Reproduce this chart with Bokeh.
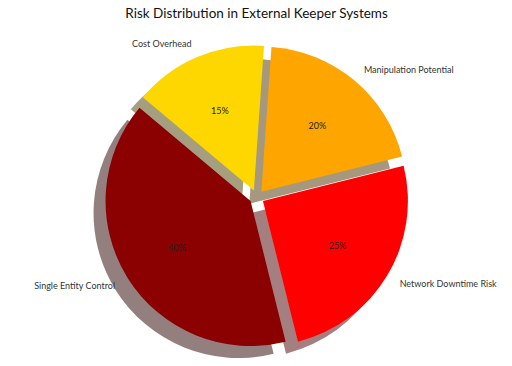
import numpy as np
from bokeh.plotting import figure
from bokeh.models import Range1d
from bokeh.core.properties import value
from bokeh.embed import file_html
from bokeh.resources import INLINE

# ---- data ----
labels = ["Single Entity Control", "Network Downtime Risk", "Manipulation Potential", "Cost Overhead"]
sizes = [40, 25, 20, 15]
colors = ["#8B0000", "#FF0000", "#FFA500", "#FFD700"]
explode = [0.05, 0.05, 0.05, 0.05]
start_angle = 140
title = "Risk Distribution in External Keeper Systems"

# ---- layout (pie radius = 1 data unit) ----
R_PX = 145.0
CX, CY = 256.2, 196.7  # pie centre in picture pixels
W, H = 504, 358
SHADOW = 12.0 / R_PX
FONT = "Lato"


def px_x(x):
    return (x - CX) / R_PX


def px_y(y):
    return (CY - y) / R_PX


p = figure(width=W, height=H, output_backend="svg", toolbar_location=None,
           x_range=Range1d(px_x(0), px_x(W)), y_range=Range1d(px_y(H), px_y(0)),
           min_border=0)
p.axis.visible = False
p.grid.visible = False
p.outline_line_color = None
p.background_fill_color = "white"

total = float(sum(sizes))
fr = np.array(sizes) / total
t2 = start_angle + np.cumsum(fr) * 360.0
t1 = t2 - fr * 360.0
mid = np.deg2rad((t1 + t2) / 2.0)
ex = np.array(explode)
cx = ex * np.cos(mid)
cy = ex * np.sin(mid)


def shade(hexc):
    r, g, b = int(hexc[1:3], 16), int(hexc[3:5], 16), int(hexc[5:7], 16)
    return "#%02x%02x%02x" % (int(r * 0.3), int(g * 0.3), int(b * 0.3))


# shadows first
p.wedge(x=list(cx - SHADOW), y=list(cy - SHADOW), radius=1.0,
        start_angle=list(t1), end_angle=list(t2), start_angle_units="deg", end_angle_units="deg",
        fill_color=[shade(c) for c in colors], fill_alpha=0.5, line_color=None)

# wedges
p.wedge(x=list(cx), y=list(cy), radius=1.0,
        start_angle=list(t1), end_angle=list(t2), start_angle_units="deg", end_angle_units="deg",
        fill_color=colors, line_color=None)

# outer labels
lx = cx + 1.1 * np.cos(mid)
ly = cy + 1.1 * np.sin(mid)
for i in range(len(labels)):
    p.text(x=[lx[i]], y=[ly[i]], text=[labels[i]],
           text_align="left" if lx[i] > 0 else "right", text_baseline="middle",
           text_font=value(FONT), text_font_size="9px", text_color="#333333")

# percentage labels
px = cx + 0.6 * np.cos(mid)
py = cy + 0.6 * np.sin(mid)
p.text(x=list(px), y=list(py), text=["%d%%" % round(f * 100) for f in fr],
       text_align="center", text_baseline="middle",
       text_font=value(FONT), text_font_size="9px", text_color="#222222")

# title
p.text(x=[0], y=[px_y(12)], text=[title], text_align="center", text_baseline="middle",
       text_font=value(FONT), text_font_size="13.5px", text_color="#111111")

open("out.html", "w").write(file_html(p, INLINE))
